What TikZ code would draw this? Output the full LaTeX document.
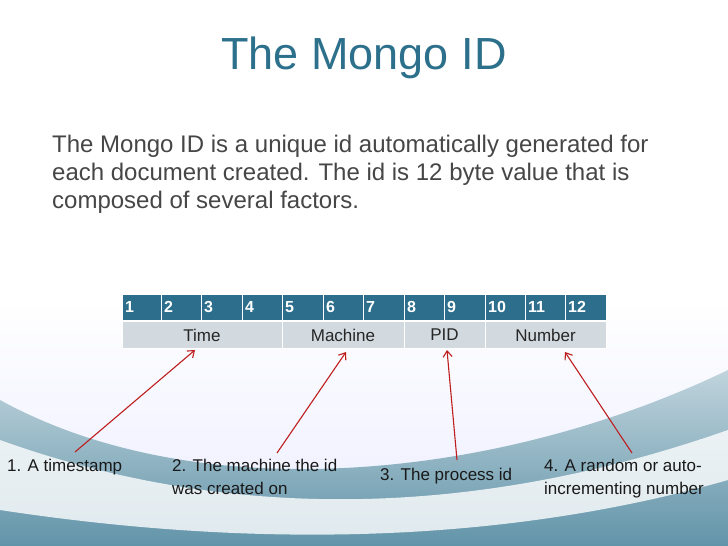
\documentclass[tikz,border=0pt]{standalone}
\usepackage{fontspec}
\setmainfont{Liberation Sans}
\usetikzlibrary{arrows.meta}
\definecolor{teal1}{RGB}{45,112,140}
\definecolor{cellblue}{RGB}{44,110,140}
\definecolor{cellgray}{RGB}{210,218,224}
\definecolor{bodytxt}{RGB}{70,70,70}
\definecolor{arrred}{RGB}{190,30,30}
\begin{document}
\begin{tikzpicture}[x=1pt,y=-1pt,
  num/.style={fill=cellblue,draw=white,line width=1pt},
  lab/.style={fill=cellgray,draw=white,line width=1pt,font=\fontsize{17}{19}\selectfont,text=black!85,inner sep=0pt},
  note/.style={font=\fontsize{17}{23}\selectfont,text=black!90,align=left,anchor=north west,inner sep=0pt},
  arr/.style={arrred,line width=1.1pt,-{Straight Barb[length=6pt,width=9pt]}}]
\useasboundingbox (0,0) rectangle (728,546);
\fill[white] (0,0) rectangle (728,300);
\shade[top color=white,bottom color=cyan!10!blue!8] (0,300) rectangle (728,546);
\shade[top color=teal1!30,bottom color=teal1!75] (0,400) .. controls (200,510) and (500,480) .. (728,370) -- (728,546) -- (0,546) -- cycle;
\fill[white,opacity=0.8] (0,440) .. controls (250,530) and (500,510) .. (728,430) -- (728,480) .. controls (500,545) and (250,548) .. (0,510) -- cycle;
\node[text=teal1,font=\fontsize{45}{50}\selectfont] (title) at (364,58) {The Mongo ID};
\node[anchor=north west,inner sep=0pt,align=left,text=bodytxt,font=\fontsize{24}{28}\selectfont] (body) at (52,135) {The Mongo ID is a unique id automatically generated for\\each document created. The id is 12 byte value that is\\composed of several factors.};
\foreach \i/\a/\b in {1/122/161,2/161/201,3/201/242,4/242/282,5/282/323,6/323/363,7/363/404,8/404/444,9/444/485,10/485/525,11/525/565,12/565/606}{
  \path[num] (\a,294) rectangle (\b,320);
  \node[text=white,font=\fontsize{16}{18}\selectfont\bfseries,anchor=west,inner sep=2pt] (n\i) at (\a+1,307) {\i};
}
\node[lab,minimum width=160pt,minimum height=27pt] (time) at (202,335) {Time};
\node[lab,minimum width=122pt,minimum height=27pt] (mach) at (343,335) {Machine};
\node[lab,minimum width=81pt,minimum height=27pt] (pid) at (444.5,335) {PID};
\node[lab,minimum width=121pt,minimum height=27pt] (numb) at (545.5,335) {Number};
\node[note] (l1) at (7,459) {1. A timestamp};
\node[note] (l2) at (172,459) {2. The machine the id\\was created on};
\node[note] (l3) at (380,468) {3. The process id};
\node[note] (l4) at (544,459) {4. A random or auto-\\incrementing number};
\coordinate (s1) at (75,452); \coordinate (t1) at (195,350);
\coordinate (s2) at (277,453); \coordinate (t2) at (346,352);
\coordinate (s3) at (457,460); \coordinate (t3) at (447,350);
\coordinate (s4) at (632,453); \coordinate (t4) at (565,352);
\foreach \k in {1,2,3,4}{\draw[arr] (s\k) -- (t\k);}
\end{tikzpicture}
\end{document}
